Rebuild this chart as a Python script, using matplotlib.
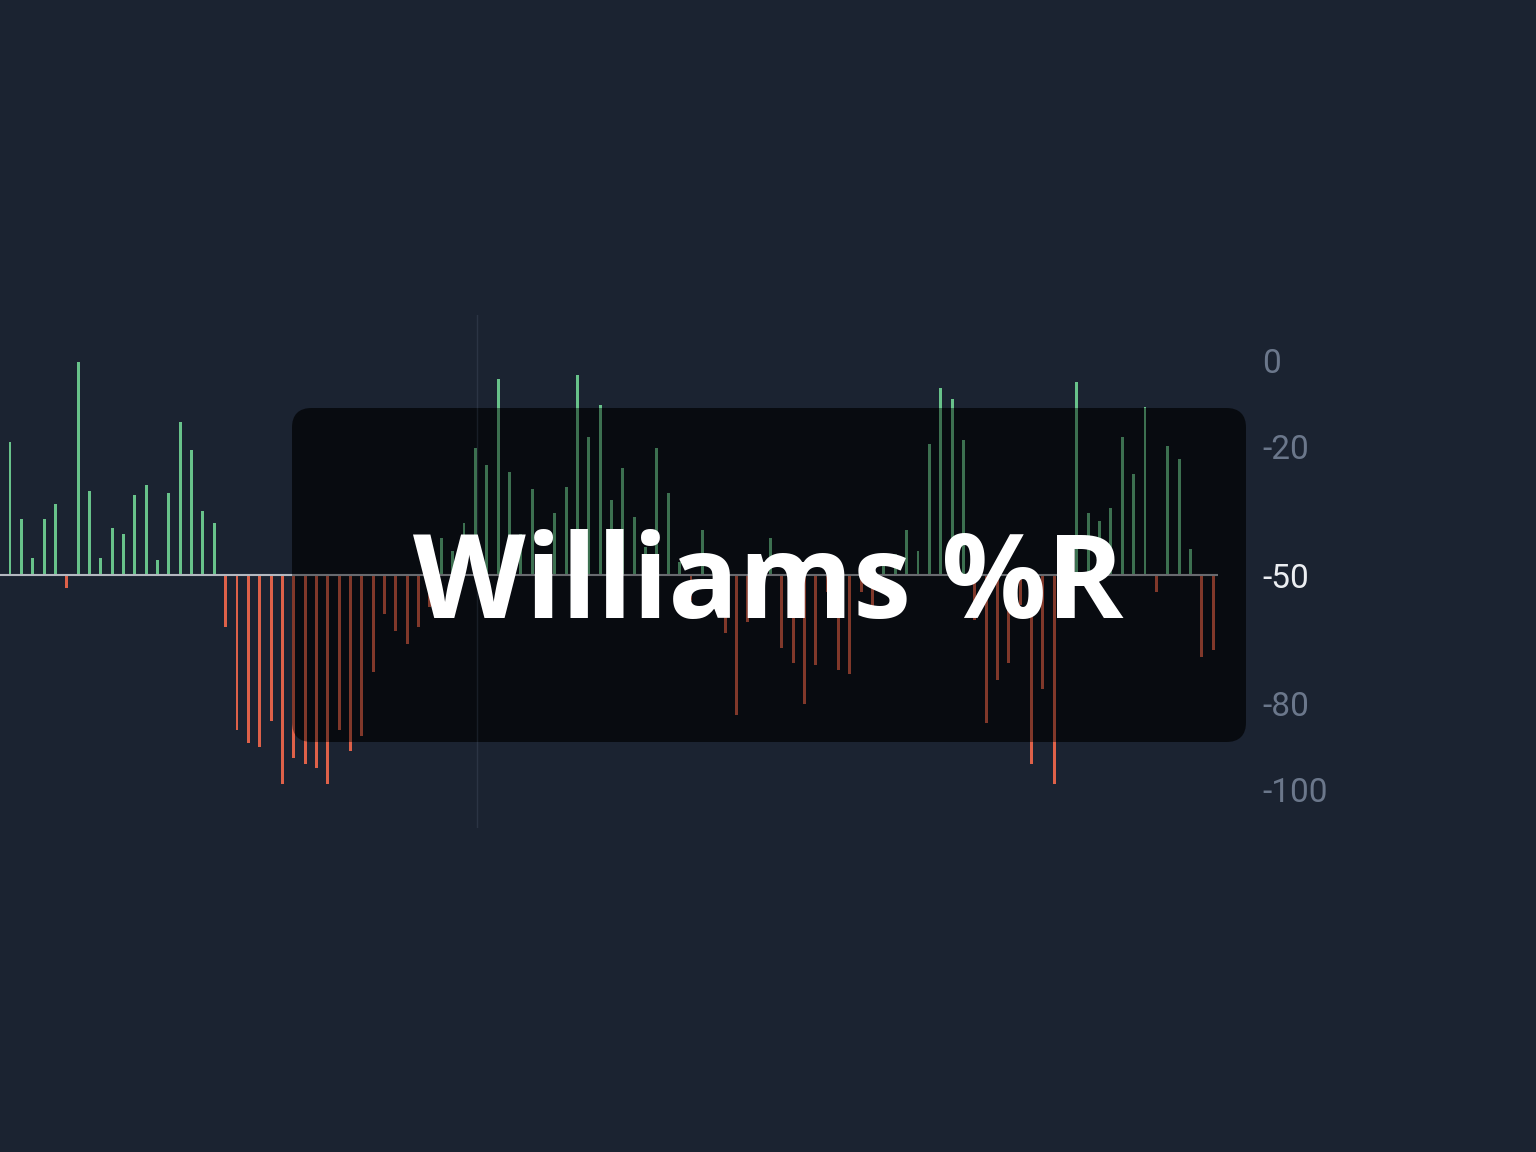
import numpy as np
import matplotlib.pyplot as plt
from matplotlib.patches import FancyBboxPatch

# Williams %R readings, one per bar (left to right)
wr_values = [
    -19, -37, -46, -37, -33.5, -53, -0.5, -30.5, -46, -39,
    -40.5, -31.5, -29, -46.5, -31, -14.5, -21, -35, -38, -62,
    -86, -89, -90, -84, -98.5, -92.5, -94, -95, -98.5, -86,
    -91, -87.5, -72.5, -59, -63, -66, -62, -57.5, -41.5, -44.5,
    -38, -20.5, -24.5, -4.5, -26, -40.5, -30, -45, -35.5, -29.5,
    -3.5, -18, -10.5, -32.5, -25, -36.5, -43.5, -20.5, -31, -47,
    -56, -39.5, -45.5, -63.5, -82.5, -61, -55, -41.5, -67, -70.5,
    -80, -71, -54, -72, -73, -54, -57.5, -45, -45, -39.5,
    -44.5, -19.5, -6.5, -9, -18.5, -60.5, -84.5, -74.5, -70.5, -57,
    -94, -76.5, -98.5, -56, -5, -35.5, -37.5, -34.5, -18, -26.5,
    -11, -54, -20, -23, -44, -69, -67.5,
]
tick_values = [0, -20, -50, -80, -100]
tick_labels = ["0", "-20", "-50", "-80", "-100"]
midline = -50
title = "Williams %R"

bg = "#1b2331"
green = "#68c28a"
red = "#de6149"

fig = plt.figure(figsize=(15.36, 11.52), dpi=100, facecolor=bg)


def pixel_axes(z):
    a = fig.add_axes([0, 0, 1, 1], zorder=z)
    a.set_xlim(0, 1536)
    a.set_ylim(1152, 0)
    a.axis("off")
    a.patch.set_alpha(0)
    return a


def card(a, **kw):
    a.add_patch(FancyBboxPatch((292, 408), 954, 334,
                               boxstyle="round,pad=0,rounding_size=20",
                               edgecolor="none", **kw))


# dark card sits behind the bars, a dimming layer on top
under = pixel_axes(0)
card(under, facecolor="#0f141c")

# main indicator panel
ax = fig.add_axes([0, 0.28125, 1218 / 1536, 0.4453], zorder=1)
ax.patch.set_alpha(0)
x = np.arange(len(wr_values))
vals = np.array(wr_values)
colors = [green if v > midline else red for v in vals]
ax.bar(x, vals - midline, bottom=midline, width=0.26, color=colors, zorder=2)
ax.axhline(midline, color="#b4b8c0", lw=1.5, zorder=3)
ax.axvline(41.17, color="#2b3444", lw=1.0, zorder=1)

ax.set_xlim(-10 / 11.35, 1218 / 11.35 - 10 / 11.35)
ax.set_ylim(-108.84, 10.47)
for s in ax.spines.values():
    s.set_visible(False)
ax.set_xticks([])
ax.yaxis.tick_right()
ax.set_yticks(tick_values)
ax.set_yticklabels(tick_labels, fontsize=24, family="Roboto")
ax.tick_params(axis="y", length=0, pad=32)
for lab, v in zip(ax.get_yticklabels(), tick_values):
    lab.set_color("#eceef2" if v == midline else "#6b778b")

over = pixel_axes(2)
card(over, facecolor="black", alpha=0.42)
over.text(768, 618, title, ha="center", va="baseline", color="white",
          fontsize=84, fontweight="bold", family="Open Sans")

fig.savefig("out.png", dpi=100, facecolor=bg)
